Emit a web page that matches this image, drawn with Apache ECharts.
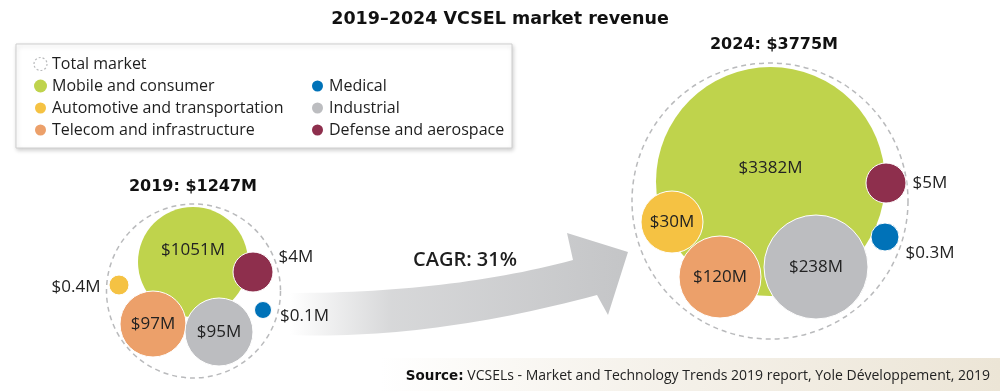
<!DOCTYPE html>
<html>
<head>
<meta charset="utf-8">
<script src="https://cdn.jsdelivr.net/npm/echarts@6/dist/echarts.min.js"></script>
<style>html,body{margin:0;padding:0;background:#fff}#c{width:1000px;height:391px}</style>
</head>
<body>
<div id="c"></div>
<script>
// ---- data ----
const years = ['2019', '2024'];
const totals = [1247, 3775];
const categories = ['Mobile and consumer', 'Automotive and transportation', 'Telecom and infrastructure', 'Medical', 'Industrial', 'Defense and aerospace'];
const mobile = [1051, 3382];
const automotive = [0.4, 30];
const telecom = [97, 120];
const medical = [0.1, 0.3];
const industrial = [95, 238];
const defense = [4, 5];
const titleText = '2019\u20132024 VCSEL market revenue';
const cagrText = 'CAGR: 31%';
const sourceLabel = 'Source:';
const sourceText = ' VCSELs - Market and Technology Trends 2019 report, Yole D\u00e9veloppement, 2019';

// ---- layout (bubble placement in pixel space: x, y, radius) ----
const layout = {
  total:      [[193.5, 291, 87], [770, 201, 138]],
  mobile:     [[193, 262, 55], [770.5, 181.5, 114.5]],
  automotive: [[119, 285, 10], [672, 222, 31]],
  telecom:    [[153, 324, 33], [720, 277, 41]],
  medical:    [[263, 310, 8.5], [885, 237, 14]],
  industrial: [[219, 332, 34], [816, 267, 52]],
  defense:    [[253, 272, 20], [886, 183, 20]]
};
const colors = {
  mobile: '#BFD34C', automotive: '#F5C243', telecom: '#ECA06A',
  medical: '#0072B8', industrial: '#BCBDC0', defense: '#8E2F4D'
};
// label placement per point
const labelCfg = {
  mobile:     [{position: 'inside', offset: [0, -12]}, {position: 'inside', offset: [0, -13]}],
  automotive: [{position: 'left', distance: 8, offset: [0, 2]}, {position: 'inside'}],
  telecom:    [{position: 'inside'}, {position: 'inside'}],
  medical:    [{position: 'right', distance: 8, offset: [0, 6]}, {position: 'right', distance: 6, offset: [0, 16]}],
  industrial: [{position: 'inside'}, {position: 'inside'}],
  defense:    [{position: 'right', distance: 5, offset: [0, -15]}, {position: 'right', distance: 6, offset: [0, 0]}]
};

const FONT = '"Open Sans", "Noto Sans", sans-serif';
const BOLDFONT = '"DejaVu Sans", "Open Sans", sans-serif';
const fmt = v => '$' + v + 'M';

function makeSeries(key, name, values) {
  return {
    name: name,
    type: 'scatter',
    symbol: 'circle',
    z: key === 'mobile' ? 3 : 4,
    itemStyle: {
      color: colors[key], opacity: 1,
      borderColor: key === 'mobile' ? colors[key] : '#ffffff',
      borderWidth: key === 'mobile' ? 0 : 1
    },
    emphasis: {disabled: true},
    data: values.map((v, i) => ({
      value: [layout[key][i][0], layout[key][i][1], v],
      symbolSize: layout[key][i][2] * 2,
      label: Object.assign({
        show: true,
        formatter: fmt(v),
        color: '#222',
        fontFamily: FONT,
        fontSize: 17
      }, labelCfg[key][i])
    }))
  };
}

const series = [
  {
    name: 'Total market',
    type: 'scatter',
    z: 2,
    itemStyle: {color: 'rgba(0,0,0,0)', borderColor: '#a8a9ab', borderWidth: 1.5, borderType: [5, 4]},
    emphasis: {disabled: true},
    data: totals.map((v, i) => ({
      value: [layout.total[i][0], layout.total[i][1], v],
      symbolSize: layout.total[i][2] * 2
    }))
  },
  makeSeries('mobile', categories[0], mobile),
  makeSeries('automotive', categories[1], automotive),
  makeSeries('telecom', categories[2], telecom),
  makeSeries('medical', categories[3], medical),
  makeSeries('industrial', categories[4], industrial),
  makeSeries('defense', categories[5], defense)
];

// arrow outline (decoration geometry)
function quad(p0, c, p1, n) {
  const pts = [];
  for (let i = 0; i <= n; i++) {
    const t = i / n, u = 1 - t;
    pts.push([u * u * p0[0] + 2 * u * t * c[0] + t * t * p1[0], u * u * p0[1] + 2 * u * t * c[1] + t * t * p1[1]]);
  }
  return pts;
}
const arrowPts = []
  .concat(quad([290, 293], [450, 293], [573, 260], 30))
  .concat([[567, 233], [628, 252], [608, 315]])
  .concat(quad([597, 295], [430, 340], [290, 335], 30));

const legendText = {fontFamily: FONT, fontSize: 16, color: '#1e1e1e', lineHeight: 18};

const chart = echarts.init(document.getElementById('c'), null, {renderer: 'canvas'});
chart.setOption({
  animation: false,
  backgroundColor: '#ffffff',
  title: {
    text: titleText, left: 'center', top: 5,
    textStyle: {fontFamily: BOLDFONT, fontSize: 17.5, fontWeight: 'bold', color: '#111'}
  },
  grid: {left: 0, right: 0, top: 0, bottom: 0},
  xAxis: {type: 'value', min: 0, max: 1000, show: false},
  yAxis: {type: 'value', min: 0, max: 391, inverse: true, show: false},
  legend: [
    {
      orient: 'vertical', left: 28, top: 50, itemWidth: 13, itemHeight: 13, itemGap: 4,
      selectedMode: false, textStyle: legendText, icon: 'circle',
      data: [
        {name: 'Total market', itemStyle: {color: 'rgba(0,0,0,0)', borderColor: '#a8a9ab', borderWidth: 1.2, borderType: [2, 2]}},
        categories[0], categories[1], categories[2]
      ]
    },
    {
      orient: 'vertical', left: 305, top: 72, itemWidth: 13, itemHeight: 13, itemGap: 4,
      selectedMode: false, textStyle: legendText, icon: 'circle',
      data: [categories[3], categories[4], categories[5]]
    }
  ],
  graphic: [
    {
      type: 'rect', z: 0, silent: true,
      shape: {x: 16, y: 44, width: 496, height: 104},
      style: {fill: '#fff', stroke: '#cfcfcf', lineWidth: 1, shadowBlur: 4, shadowOffsetX: 1, shadowOffsetY: 2, shadowColor: 'rgba(0,0,0,0.18)'}
    },
    {
      type: 'rect', z: 0, silent: true,
      shape: {x: 380, y: 358, width: 620, height: 33},
      style: {fill: {type: 'linear', x: 380, y: 0, x2: 1000, y2: 0, global: true,
        colorStops: [{offset: 0, color: 'rgba(236,229,214,0)'}, {offset: 0.45, color: 'rgba(238,232,220,0.6)'}, {offset: 1, color: '#ECE5D6'}]}}
    },
    {
      type: 'polygon', z: 0, silent: true,
      shape: {points: arrowPts},
      style: {fill: {type: 'linear', x: 290, y: 0, x2: 628, y2: 0, global: true,
        colorStops: [{offset: 0, color: 'rgba(198,199,201,0)'}, {offset: 0.3, color: 'rgba(198,199,201,0.7)'}, {offset: 1, color: '#c4c5c7'}]}}
    },
    {
      type: 'text', z: 5, silent: true,
      x: 465, y: 260,
      style: {text: cagrText, font: '600 20px ' + FONT, fill: '#1e1e1e', align: 'center', verticalAlign: 'middle'}
    },
    {
      type: 'text', z: 5, silent: true,
      x: 193, y: 187,
      style: {text: years[0] + ': $' + totals[0] + 'M', font: 'bold 16px ' + BOLDFONT, fill: '#111', align: 'center', verticalAlign: 'middle'}
    },
    {
      type: 'text', z: 5, silent: true,
      x: 774, y: 45,
      style: {text: years[1] + ': $' + totals[1] + 'M', font: 'bold 16px ' + BOLDFONT, fill: '#111', align: 'center', verticalAlign: 'middle'}
    },
    {
      type: 'text', z: 5, silent: true,
      x: 990, y: 376,
      style: {
        text: '{b|' + sourceLabel + '}{n|' + sourceText + '}',
        align: 'right', verticalAlign: 'middle',
        rich: {
          b: {fontFamily: BOLDFONT, fontSize: 13.5, fontWeight: 'bold', fill: '#111'},
          n: {fontFamily: FONT, fontSize: 14, fill: '#222'}
        }
      }
    }
  ],
  series: series
});
</script>
</body>
</html>
